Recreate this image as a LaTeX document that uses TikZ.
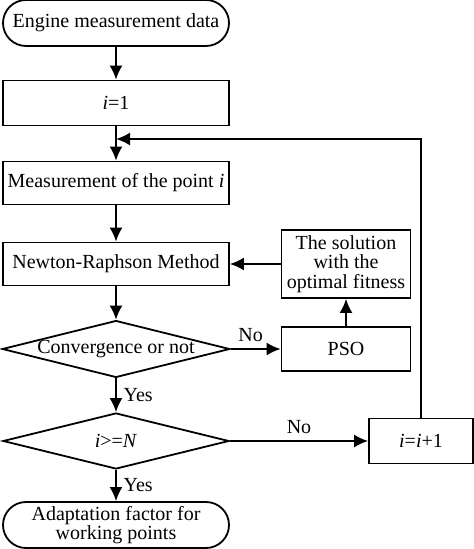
\documentclass[tikz,border=0pt]{standalone}
\usepackage{fontspec}
\setmainfont{Liberation Serif}
\usepackage{tikz}
\usetikzlibrary{arrows.meta,positioning,shapes.geometric}

\begin{document}
\begin{tikzpicture}[x=0.5pt,y=-0.5pt,
		font=\fontsize{10pt}{9.6pt}\selectfont,
		box/.style={draw,line width=0.9pt,rectangle,inner sep=1pt,align=center},
		term/.style={box,rounded corners=11.5pt,minimum width=113pt,minimum height=23pt},
		decision/.style={draw,line width=0.9pt,diamond,aspect=4,inner sep=0pt,minimum width=113pt,minimum height=28pt},
		flow/.style={draw,line width=0.9pt,-{Latex[length=7pt,width=6.5pt]}}]
		\useasboundingbox (0,0) rectangle (474,549);
		\node (start) at (116,23) [term] {Engine measurement data};
		\node (init) at (116,103) [box,minimum width=113pt,minimum height=22.5pt] {\textit{i}=1};
		\node (meas) at (116,183) [box,minimum width=113pt,minimum height=21.5pt] {Measurement of the point \textit{i}};
		\node (newton) at (116,264) [box,minimum width=113pt,minimum height=21.5pt] {Newton-Raphson Method};
		\node (best) at (346,264) [box,minimum width=64.5pt,minimum height=34pt] {The solution\\with the\\optimal fitness};
		\node (conv) at (116,349) [decision] {Convergence or not};
		\node (pso) at (346,349) [box,minimum width=64.5pt,minimum height=22pt] {PSO};
		\node (check) at (116,441) [decision] {\textit{i}>=\textit{N}};
		\node (next) at (421,441) [box,minimum width=52pt,minimum height=22.5pt] {\textit{i}=\textit{i}+1};
		\node (stop) at (116,525) [term] {Adaptation factor for\\working points};
		\coordinate (loop) at (116,139);
		\path [flow] (start) -- (init);
		\path [flow] (init) -- (meas);
		\path [flow] (next.north) |- (loop);
		\path [flow] (meas) -- (newton);
		\path [flow] (newton) -- (conv);
		\path [flow] (conv) -- node [above,pos=0.4] {No} (pso);
		\path [flow] (pso) -- (best);
		\path [flow] (best) -- (newton);
		\path [flow] (conv) -- node [right] {Yes} (check);
		\path [flow] (check) -- node [above] {No} (next);
		\path [flow] (check) -- node [right] {Yes} (stop);
	\end{tikzpicture}
\end{document}
